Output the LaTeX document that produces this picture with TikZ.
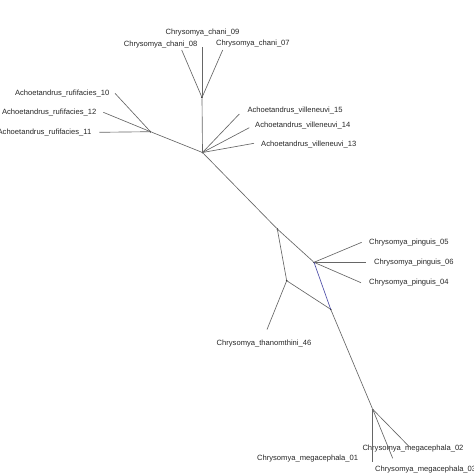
\documentclass[tikz,border=0pt]{standalone}
\usepackage{fontspec}
\setmainfont{Liberation Sans}
\usepackage{tikz}
\usepackage{xcolor}
\definecolor{edge}{HTML}{666666}
\definecolor{split}{HTML}{4B4BA6}
\definecolor{tag}{HTML}{262626}
\tikzset{
  branch/.style={draw=edge, line width=0.65pt},
  splitedge/.style={draw=split, line width=0.65pt},
  taxon/.style={font=\fontsize{7.6}{8.5}\selectfont, text=tag, inner sep=0pt},
  junction/.style={fill=black, circle, inner sep=0pt, minimum size=1.6pt},
}

\begin{document}
\begin{tikzpicture}[x=1pt, y=-1pt]
  \useasboundingbox (0,0) rectangle (474,474);

  % internal vertices of the split network
  \node[junction] (chani)  at (202.0, 97.5)  {};
  \node[junction] (hub)    at (202.5,152.5)  {};
  \node[junction] (ruf)    at (150.5,131.7)  {};
  \node[junction] (boxN)   at (277.3,229.0)  {};
  \node[junction] (ping)   at (314.0,262.3)  {};
  \node[junction] (boxW)   at (286.7,280.7)  {};
  \node[junction] (boxS)   at (330.7,309.3)  {};
  \node[junction] (mega)   at (372.7,409.3)  {};

  % branch tips
  \coordinate (c09) at (202.0, 46.7);
  \coordinate (c08) at (181.7, 50.0);
  \coordinate (c07) at (222.7, 50.0);
  \coordinate (r10) at (115.0, 93.3);
  \coordinate (r12) at (103.3,112.3);
  \coordinate (r11) at ( 99.3,132.3);
  \coordinate (v15) at (239.3,114.0);
  \coordinate (v14) at (249.3,127.7);
  \coordinate (v13) at (254.0,143.3);
  \coordinate (p05) at (361.7,242.3);
  \coordinate (p06) at (366.0,262.3);
  \coordinate (p04) at (361.0,282.7);
  \coordinate (t46) at (267.0,329.5);
  \coordinate (m01) at (372.7,461.7);
  \coordinate (m03) at (392.7,458.3);
  \coordinate (m02) at (409.3,446.7);

  % taxon labels
  \node[taxon] (lc09) at (202.5, 33.0) {Chrysomya\_chani\_09};
  \node[taxon, anchor=east] (lc08) at (197.5, 45.0) {Chrysomya\_chani\_08};
  \node[taxon, anchor=west] (lc07) at (216.0, 43.3) {Chrysomya\_chani\_07};
  \node[taxon, anchor=east] (lr10) at (109.5, 93.3) {Achoetandrus\_rufifacies\_10};
  \node[taxon, anchor=east] (lr12) at ( 96.5,112.3) {Achoetandrus\_rufifacies\_12};
  \node[taxon, anchor=east] (lr11) at ( 91.5,132.3) {Achoetandrus\_rufifacies\_11};
  \node[taxon, anchor=west] (lv15) at (247.3,110.0) {Achoetandrus\_villeneuvi\_15};
  \node[taxon, anchor=west] (lv14) at (255.0,125.0) {Achoetandrus\_villeneuvi\_14};
  \node[taxon, anchor=west] (lv13) at (261.0,144.0) {Achoetandrus\_villeneuvi\_13};
  \node[taxon, anchor=west] (lp05) at (369.0,242.3) {Chrysomya\_pinguis\_05};
  \node[taxon, anchor=west] (lp06) at (374.0,262.3) {Chrysomya\_pinguis\_06};
  \node[taxon, anchor=west] (lp04) at (369.0,282.7) {Chrysomya\_pinguis\_04};
  \node[taxon] (lt46) at (264.0,343.3) {Chrysomya\_thanomthini\_46};
  \node[taxon, anchor=west] (lm02) at (362.3,448.3) {Chrysomya\_megacephala\_02};
  \node[taxon, anchor=east] (lm01) at (358.3,458.3) {Chrysomya\_megacephala\_01};
  \node[taxon, anchor=west] (lm03) at (375.0,469.5) {Chrysomya\_megacephala\_03};

  \foreach \a/\b in {chani/c09, chani/c08, chani/c07, hub/chani,
                     ruf/r10, ruf/r12, ruf/r11, hub/ruf,
                     hub/v15, hub/v14, hub/v13, hub/boxN,
                     boxN/ping, boxN/boxW, boxW/boxS, boxW/t46,
                     ping/p05, ping/p06, ping/p04, boxS/mega,
                     mega/m01, mega/m03, mega/m02}
    \draw[branch] (\a.center) -- (\b);
  \draw[splitedge] (ping.center) -- (boxS.center);
\end{tikzpicture}
\end{document}
